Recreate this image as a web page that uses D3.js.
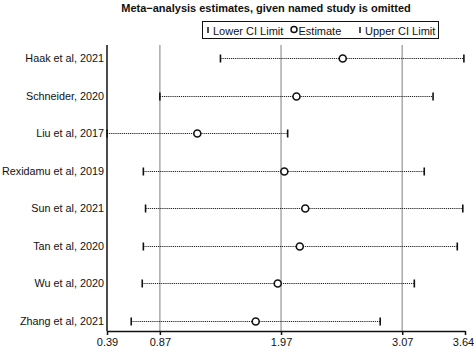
<!DOCTYPE html>
<html>
<head>
<meta charset="utf-8">
<script src="https://cdn.jsdelivr.net/npm/d3@7"></script>
<style>
  body { margin: 0; background: #fff; }
  text { font-family: "Liberation Sans", Arial, sans-serif; fill: #111; }
</style>
</head>
<body>
<svg id="chart" width="474" height="348"></svg>
<script>
// Leave-one-out sensitivity analysis
const studies = ["Haak et al, 2021", "Schneider, 2020", "Liu et al, 2017", "Rexidamu et al, 2019",
                 "Sun et al, 2021", "Tan et al, 2020", "Wu et al, 2020", "Zhang et al, 2021"];
const lowerCI  = [1.42, 0.87, 0.39, 0.72, 0.74, 0.72, 0.71, 0.61];
const estimate = [2.53, 2.11, 1.21, 2.00, 2.19, 2.14, 1.94, 1.74];
const upperCI  = [3.63, 3.35, 2.03, 3.27, 3.62, 3.57, 3.18, 2.87];
const xTicks   = [0.39, 0.87, 1.97, 3.07, 3.64];
const gridAt   = [0.87, 1.97, 3.07];

const svg = d3.select("#chart");
const x = d3.scaleLinear().domain([0.39, 3.64]).range([107, 465]);
const y = d3.scalePoint().domain(studies).range([58, 321]);
const plotTop = 45, plotBottom = 331;

// title
svg.append("text").attr("x", 266).attr("y", 12).attr("text-anchor", "middle")
  .style("font-size", "11px").style("font-weight", "bold").text("Meta\u2212analysis estimates, given named study is omitted");

// legend
const lg = svg.append("g");
lg.append("rect").attr("x", 202.5).attr("y", 21.5).attr("width", 236).attr("height", 17)
  .attr("fill", "none").attr("stroke", "#111").attr("stroke-width", 1);
lg.append("line").attr("x1", 208).attr("x2", 208).attr("y1", 27).attr("y2", 33).attr("stroke", "#111").attr("stroke-width", 1.5);
lg.append("text").attr("x", 213).attr("y", 34.5).style("font-size", "11px").text("Lower CI Limit");
lg.append("circle").attr("cx", 294).attr("cy", 29.5).attr("r", 3).attr("fill", "#fff").attr("stroke", "#111").attr("stroke-width", 1.5);
lg.append("text").attr("x", 298.5).attr("y", 34.5).style("font-size", "11px").text("Estimate");
lg.append("line").attr("x1", 360).attr("x2", 360).attr("y1", 27).attr("y2", 33).attr("stroke", "#111").attr("stroke-width", 1.5);
lg.append("text").attr("x", 365).attr("y", 34.5).style("font-size", "11px").text("Upper CI Limit");

// gridlines
svg.selectAll(".grid").data(gridAt).enter().append("line")
  .attr("x1", d => x(d)).attr("x2", d => x(d)).attr("y1", plotTop).attr("y2", plotBottom)
  .attr("stroke", "#aaa").attr("stroke-width", 1.5);

// bottom axis
const xAxis = svg.append("g").attr("transform", `translate(0,${plotBottom})`)
  .call(d3.axisBottom(x).tickValues(xTicks).tickFormat(d3.format(".2f")).tickSize(4).tickPadding(3.5).tickSizeOuter(0));
xAxis.select(".domain").attr("stroke", "#111").attr("stroke-width", 1.5);
xAxis.selectAll(".tick line").attr("stroke", "#111").attr("stroke-width", 1.5);
xAxis.selectAll(".tick text").style("font-size", "11px").attr("fill", "#111")
  .attr("dx", d => d === 3.64 ? "-2" : "0");

// left axis
const yAxis = svg.append("g").attr("transform", `translate(107,0)`)
  .call(d3.axisLeft(y).tickSize(0).tickPadding(3));
yAxis.select(".domain").remove();
yAxis.append("line").attr("x1", 0).attr("x2", 0).attr("y1", plotTop).attr("y2", plotBottom)
  .attr("stroke", "#111").attr("stroke-width", 1.5);
yAxis.selectAll(".tick text").style("font-size", "10.8px").attr("fill", "#111");

// rows: dotted CI line, end caps, point estimate
const rows = svg.selectAll(".row").data(studies).enter().append("g")
  .attr("transform", d => `translate(0,${Math.round(y(d)) + 0.5})`);
rows.append("line").attr("x1", (d, i) => x(lowerCI[i])).attr("x2", (d, i) => x(upperCI[i]))
  .attr("stroke", "#222").attr("stroke-width", 1.2).attr("stroke-dasharray", "1.2,0.9");
rows.append("line").attr("x1", (d, i) => x(lowerCI[i])).attr("x2", (d, i) => x(lowerCI[i]))
  .attr("y1", -4).attr("y2", 4).attr("stroke", "#111").attr("stroke-width", 1.6);
rows.append("line").attr("x1", (d, i) => x(upperCI[i])).attr("x2", (d, i) => x(upperCI[i]))
  .attr("y1", -4).attr("y2", 4).attr("stroke", "#111").attr("stroke-width", 1.6);
rows.append("circle").attr("cx", (d, i) => x(estimate[i])).attr("r", 3.5)
  .attr("fill", "#fff").attr("stroke", "#111").attr("stroke-width", 1.6);
</script>
</body>
</html>
